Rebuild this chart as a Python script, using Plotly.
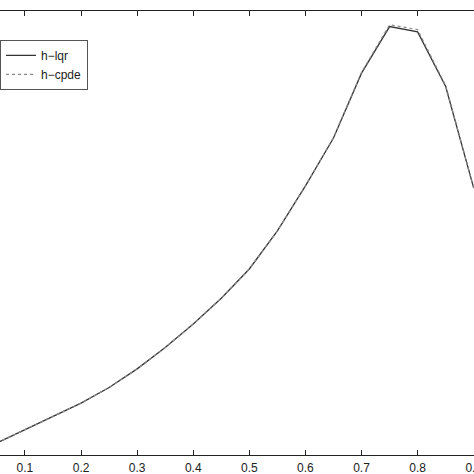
import plotly.graph_objects as go

# frequency axis and the two responses (y, arbitrary units)
x_vals = [0.05, 0.10, 0.15, 0.20, 0.25, 0.30, 0.35, 0.40, 0.45, 0.50,
          0.55, 0.60, 0.65, 0.70, 0.75, 0.80, 0.85, 0.90]
h_lqr = [0.027, 0.057, 0.087, 0.117, 0.152, 0.194, 0.242, 0.295, 0.353, 0.419,
         0.505, 0.606, 0.714, 0.860, 0.965, 0.953, 0.830, 0.601]
h_cpde = [0.027, 0.057, 0.087, 0.117, 0.152, 0.194, 0.242, 0.295, 0.353, 0.419,
          0.505, 0.606, 0.715, 0.862, 0.969, 0.958, 0.832, 0.601]
tick_vals = [0.1, 0.2, 0.3, 0.4, 0.5, 0.6, 0.7, 0.8, 0.9]

fig = go.Figure()
fig.add_trace(go.Scatter(x=x_vals, y=h_lqr, mode="lines", name="h\u2212lqr",
                         line=dict(color="#333333", width=1.3)))
fig.add_trace(go.Scatter(x=x_vals, y=h_cpde, mode="lines", name="h\u2212cpde",
                         line=dict(color="#8a8a8a", width=1.2, dash="dot")))

fig.update_layout(
    width=474, height=474,
    margin=dict(l=0, r=0, t=11, b=19),
    plot_bgcolor="white", paper_bgcolor="white",
    font=dict(family="Liberation Sans, Arial, sans-serif", size=12, color="#222222"),
    legend=dict(x=0, y=0.935, xanchor="left", yanchor="top",
                bordercolor="#555555", borderwidth=1, bgcolor="white",
                font=dict(size=12), tracegroupgap=0, itemwidth=30),
)
fig.update_xaxes(range=[0.0555, 0.9005], tickvals=tick_vals, tickformat=".1f",
                 showgrid=False, zeroline=False, showline=True, linecolor="#222222",
                 linewidth=1, mirror="ticks", ticks="inside", ticklen=5,
                 tickcolor="#222222", ticklabelstandoff=2, ticklabeloverflow="allow",
                 automargin=False)
fig.update_yaxes(range=[0, 1], showgrid=False, zeroline=False, showline=False,
                 showticklabels=False, ticks="", automargin=False)

# page body has a default 8px margin, drop it so the chart sits at the corner
fig.write_html("out.html", config={"displayModeBar": False},
               post_script="document.body.style.margin='0';")
